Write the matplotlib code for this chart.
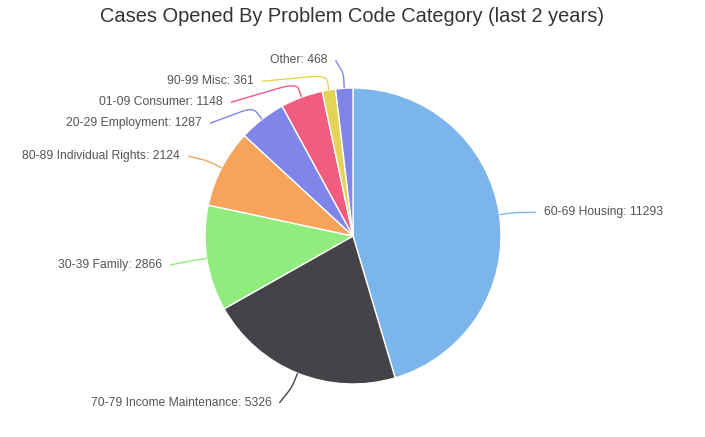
import numpy as np
import matplotlib
matplotlib.use("Agg")
from matplotlib import pyplot as plt
from matplotlib.path import Path
from matplotlib.patches import PathPatch

# data
categories = ["60-69 Housing", "70-79 Income Maintenance", "30-39 Family",
              "80-89 Individual Rights", "20-29 Employment", "01-09 Consumer",
              "90-99 Misc", "Other"]
counts = [11293, 5326, 2866, 2124, 1287, 1148, 361, 468]
colors = ["#7cb5ec", "#434348", "#90ed7d", "#f7a35c", "#8085e9", "#f15c80",
          "#e4d354", "#8085e9"]
title = "Cases Opened By Problem Code Category (last 2 years)"

plt.rcParams['font.family'] = ['Liberation Sans', 'DejaVu Sans']

W, H = 705, 437
fig = plt.figure(figsize=(W / 100, H / 100), dpi=100)
ax = fig.add_axes([0, 0, 1, 1])

cx, cy, r = 353, 236, 148
# pie drawn clockwise from the top; y axis is flipped so counterclock=True looks clockwise
ax.pie(counts, colors=colors, center=(cx, cy), radius=r, startangle=-90,
       counterclock=True, wedgeprops=dict(edgecolor="white", linewidth=1),
       frame=True)
ax.set_xlim(0, W)
ax.set_ylim(H, 0)
ax.set_aspect("equal")
ax.axis("off")

fig.text(0.5, 1 - 17 / H, title, ha="center", va="center", fontsize=14.4,
         color="#333333")

# label layout (highcharts-like)
total = float(sum(counts))
cum = np.cumsum([0] + counts)
mids = [(cum[i] + cum[i + 1]) / 2 / total * 360 for i in range(len(counts))]
R = r + 30
labels = []
for i, th in enumerate(mids):
    t = np.radians(th)
    left = np.sin(t) < 0
    ny = cy - R * np.cos(t)
    labels.append(dict(i=i, th=t, left=left, y=ny))

# spread crowded labels on each side
for side in (True, False):
    grp = sorted([l for l in labels if l["left"] == side], key=lambda l: l["y"])
    prev = -1e9
    for l in grp:
        l["y"] = max(l["y"], prev + 21)
        prev = l["y"]

for l in labels:
    i, t, left, y = l["i"], l["th"], l["left"], l["y"]
    dy = np.clip(y - cy, -R, R)
    dx = np.sqrt(R ** 2 - dy ** 2)
    sgn = -1 if left else 1
    xt = cx + sgn * (dx + 15)
    y = y + 2
    ax.text(xt, y, "%s: %d" % (categories[i], counts[i]), fontsize=8.75,
            color="#555555", ha="right" if left else "left", va="center")
    # connector
    a = (xt - sgn * 8, y)
    b = (cx + (r + 15) * np.sin(t), cy - (r + 15) * np.cos(t))
    e = (cx + r * np.sin(t), cy - r * np.cos(t))
    p1 = (a[0] + 0.75 * (b[0] - a[0]), a[1] + 0.75 * (b[1] - a[1]))
    p2 = (b[0] + 0.4 * (e[0] - b[0]), b[1] + 0.4 * (e[1] - b[1]))
    path = Path([a, p1, b, p2, e],
                [Path.MOVETO, Path.LINETO, Path.CURVE3, Path.CURVE3, Path.LINETO])
    ax.add_patch(PathPatch(path, fill=False, edgecolor=colors[i], linewidth=1))

fig.savefig("out.png", dpi=100)
